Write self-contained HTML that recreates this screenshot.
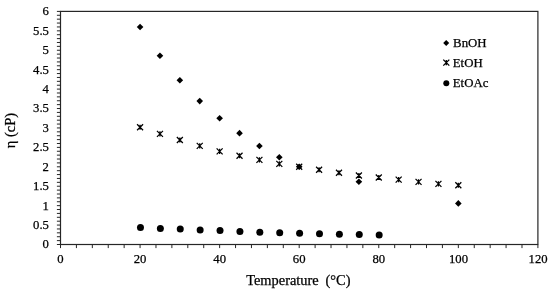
<!DOCTYPE html>
<html><head><meta charset="utf-8"><style>
html,body{margin:0;padding:0;background:#fff;}
svg{display:block;}
text{font-family:"Liberation Serif","Times New Roman",serif;fill:#000;stroke:#000;stroke-width:0.25px;}
.tk{font-size:12.7px;}
.tt{font-size:14.4px;}
.lg{font-size:12.8px;}
</style></head><body>
<svg width="550" height="291" viewBox="0 0 550 291">
<rect width="550" height="291" fill="#fff"/>
<rect x="60.5" y="11.4" width="477.4" height="233.1" fill="none" stroke="#262626" stroke-width="1.2"/>
<line x1="56.9" y1="244.50" x2="60.5" y2="244.50" stroke="#262626" stroke-width="1"/>
<line x1="56.9" y1="240.62" x2="60.5" y2="240.62" stroke="#262626" stroke-width="1"/>
<line x1="56.9" y1="236.73" x2="60.5" y2="236.73" stroke="#262626" stroke-width="1"/>
<line x1="56.9" y1="232.84" x2="60.5" y2="232.84" stroke="#262626" stroke-width="1"/>
<line x1="56.9" y1="228.96" x2="60.5" y2="228.96" stroke="#262626" stroke-width="1"/>
<line x1="56.9" y1="225.07" x2="60.5" y2="225.07" stroke="#262626" stroke-width="1"/>
<line x1="56.9" y1="221.19" x2="60.5" y2="221.19" stroke="#262626" stroke-width="1"/>
<line x1="56.9" y1="217.31" x2="60.5" y2="217.31" stroke="#262626" stroke-width="1"/>
<line x1="56.9" y1="213.42" x2="60.5" y2="213.42" stroke="#262626" stroke-width="1"/>
<line x1="56.9" y1="209.53" x2="60.5" y2="209.53" stroke="#262626" stroke-width="1"/>
<line x1="56.9" y1="205.65" x2="60.5" y2="205.65" stroke="#262626" stroke-width="1"/>
<line x1="56.9" y1="201.76" x2="60.5" y2="201.76" stroke="#262626" stroke-width="1"/>
<line x1="56.9" y1="197.88" x2="60.5" y2="197.88" stroke="#262626" stroke-width="1"/>
<line x1="56.9" y1="194.00" x2="60.5" y2="194.00" stroke="#262626" stroke-width="1"/>
<line x1="56.9" y1="190.11" x2="60.5" y2="190.11" stroke="#262626" stroke-width="1"/>
<line x1="56.9" y1="186.22" x2="60.5" y2="186.22" stroke="#262626" stroke-width="1"/>
<line x1="56.9" y1="182.34" x2="60.5" y2="182.34" stroke="#262626" stroke-width="1"/>
<line x1="56.9" y1="178.45" x2="60.5" y2="178.45" stroke="#262626" stroke-width="1"/>
<line x1="56.9" y1="174.57" x2="60.5" y2="174.57" stroke="#262626" stroke-width="1"/>
<line x1="56.9" y1="170.69" x2="60.5" y2="170.69" stroke="#262626" stroke-width="1"/>
<line x1="56.9" y1="166.80" x2="60.5" y2="166.80" stroke="#262626" stroke-width="1"/>
<line x1="56.9" y1="162.92" x2="60.5" y2="162.92" stroke="#262626" stroke-width="1"/>
<line x1="56.9" y1="159.03" x2="60.5" y2="159.03" stroke="#262626" stroke-width="1"/>
<line x1="56.9" y1="155.14" x2="60.5" y2="155.14" stroke="#262626" stroke-width="1"/>
<line x1="56.9" y1="151.26" x2="60.5" y2="151.26" stroke="#262626" stroke-width="1"/>
<line x1="56.9" y1="147.38" x2="60.5" y2="147.38" stroke="#262626" stroke-width="1"/>
<line x1="56.9" y1="143.49" x2="60.5" y2="143.49" stroke="#262626" stroke-width="1"/>
<line x1="56.9" y1="139.61" x2="60.5" y2="139.61" stroke="#262626" stroke-width="1"/>
<line x1="56.9" y1="135.72" x2="60.5" y2="135.72" stroke="#262626" stroke-width="1"/>
<line x1="56.9" y1="131.83" x2="60.5" y2="131.83" stroke="#262626" stroke-width="1"/>
<line x1="56.9" y1="127.95" x2="60.5" y2="127.95" stroke="#262626" stroke-width="1"/>
<line x1="56.9" y1="124.06" x2="60.5" y2="124.06" stroke="#262626" stroke-width="1"/>
<line x1="56.9" y1="120.18" x2="60.5" y2="120.18" stroke="#262626" stroke-width="1"/>
<line x1="56.9" y1="116.30" x2="60.5" y2="116.30" stroke="#262626" stroke-width="1"/>
<line x1="56.9" y1="112.41" x2="60.5" y2="112.41" stroke="#262626" stroke-width="1"/>
<line x1="56.9" y1="108.53" x2="60.5" y2="108.53" stroke="#262626" stroke-width="1"/>
<line x1="56.9" y1="104.64" x2="60.5" y2="104.64" stroke="#262626" stroke-width="1"/>
<line x1="56.9" y1="100.75" x2="60.5" y2="100.75" stroke="#262626" stroke-width="1"/>
<line x1="56.9" y1="96.87" x2="60.5" y2="96.87" stroke="#262626" stroke-width="1"/>
<line x1="56.9" y1="92.99" x2="60.5" y2="92.99" stroke="#262626" stroke-width="1"/>
<line x1="56.9" y1="89.10" x2="60.5" y2="89.10" stroke="#262626" stroke-width="1"/>
<line x1="56.9" y1="85.22" x2="60.5" y2="85.22" stroke="#262626" stroke-width="1"/>
<line x1="56.9" y1="81.33" x2="60.5" y2="81.33" stroke="#262626" stroke-width="1"/>
<line x1="56.9" y1="77.45" x2="60.5" y2="77.45" stroke="#262626" stroke-width="1"/>
<line x1="56.9" y1="73.56" x2="60.5" y2="73.56" stroke="#262626" stroke-width="1"/>
<line x1="56.9" y1="69.67" x2="60.5" y2="69.67" stroke="#262626" stroke-width="1"/>
<line x1="56.9" y1="65.79" x2="60.5" y2="65.79" stroke="#262626" stroke-width="1"/>
<line x1="56.9" y1="61.91" x2="60.5" y2="61.91" stroke="#262626" stroke-width="1"/>
<line x1="56.9" y1="58.02" x2="60.5" y2="58.02" stroke="#262626" stroke-width="1"/>
<line x1="56.9" y1="54.13" x2="60.5" y2="54.13" stroke="#262626" stroke-width="1"/>
<line x1="56.9" y1="50.25" x2="60.5" y2="50.25" stroke="#262626" stroke-width="1"/>
<line x1="56.9" y1="46.37" x2="60.5" y2="46.37" stroke="#262626" stroke-width="1"/>
<line x1="56.9" y1="42.48" x2="60.5" y2="42.48" stroke="#262626" stroke-width="1"/>
<line x1="56.9" y1="38.60" x2="60.5" y2="38.60" stroke="#262626" stroke-width="1"/>
<line x1="56.9" y1="34.71" x2="60.5" y2="34.71" stroke="#262626" stroke-width="1"/>
<line x1="56.9" y1="30.83" x2="60.5" y2="30.83" stroke="#262626" stroke-width="1"/>
<line x1="56.9" y1="26.94" x2="60.5" y2="26.94" stroke="#262626" stroke-width="1"/>
<line x1="56.9" y1="23.05" x2="60.5" y2="23.05" stroke="#262626" stroke-width="1"/>
<line x1="56.9" y1="19.17" x2="60.5" y2="19.17" stroke="#262626" stroke-width="1"/>
<line x1="56.9" y1="15.28" x2="60.5" y2="15.28" stroke="#262626" stroke-width="1"/>
<line x1="56.9" y1="11.40" x2="60.5" y2="11.40" stroke="#262626" stroke-width="1"/>
<line x1="60.50" y1="244.5" x2="60.50" y2="248.1" stroke="#262626" stroke-width="1"/>
<line x1="76.41" y1="244.5" x2="76.41" y2="248.1" stroke="#262626" stroke-width="1"/>
<line x1="92.33" y1="244.5" x2="92.33" y2="248.1" stroke="#262626" stroke-width="1"/>
<line x1="108.24" y1="244.5" x2="108.24" y2="248.1" stroke="#262626" stroke-width="1"/>
<line x1="124.15" y1="244.5" x2="124.15" y2="248.1" stroke="#262626" stroke-width="1"/>
<line x1="140.07" y1="244.5" x2="140.07" y2="248.1" stroke="#262626" stroke-width="1"/>
<line x1="155.98" y1="244.5" x2="155.98" y2="248.1" stroke="#262626" stroke-width="1"/>
<line x1="171.89" y1="244.5" x2="171.89" y2="248.1" stroke="#262626" stroke-width="1"/>
<line x1="187.81" y1="244.5" x2="187.81" y2="248.1" stroke="#262626" stroke-width="1"/>
<line x1="203.72" y1="244.5" x2="203.72" y2="248.1" stroke="#262626" stroke-width="1"/>
<line x1="219.63" y1="244.5" x2="219.63" y2="248.1" stroke="#262626" stroke-width="1"/>
<line x1="235.55" y1="244.5" x2="235.55" y2="248.1" stroke="#262626" stroke-width="1"/>
<line x1="251.46" y1="244.5" x2="251.46" y2="248.1" stroke="#262626" stroke-width="1"/>
<line x1="267.37" y1="244.5" x2="267.37" y2="248.1" stroke="#262626" stroke-width="1"/>
<line x1="283.29" y1="244.5" x2="283.29" y2="248.1" stroke="#262626" stroke-width="1"/>
<line x1="299.20" y1="244.5" x2="299.20" y2="248.1" stroke="#262626" stroke-width="1"/>
<line x1="315.11" y1="244.5" x2="315.11" y2="248.1" stroke="#262626" stroke-width="1"/>
<line x1="331.03" y1="244.5" x2="331.03" y2="248.1" stroke="#262626" stroke-width="1"/>
<line x1="346.94" y1="244.5" x2="346.94" y2="248.1" stroke="#262626" stroke-width="1"/>
<line x1="362.85" y1="244.5" x2="362.85" y2="248.1" stroke="#262626" stroke-width="1"/>
<line x1="378.77" y1="244.5" x2="378.77" y2="248.1" stroke="#262626" stroke-width="1"/>
<line x1="394.68" y1="244.5" x2="394.68" y2="248.1" stroke="#262626" stroke-width="1"/>
<line x1="410.59" y1="244.5" x2="410.59" y2="248.1" stroke="#262626" stroke-width="1"/>
<line x1="426.51" y1="244.5" x2="426.51" y2="248.1" stroke="#262626" stroke-width="1"/>
<line x1="442.42" y1="244.5" x2="442.42" y2="248.1" stroke="#262626" stroke-width="1"/>
<line x1="458.33" y1="244.5" x2="458.33" y2="248.1" stroke="#262626" stroke-width="1"/>
<line x1="474.25" y1="244.5" x2="474.25" y2="248.1" stroke="#262626" stroke-width="1"/>
<line x1="490.16" y1="244.5" x2="490.16" y2="248.1" stroke="#262626" stroke-width="1"/>
<line x1="506.07" y1="244.5" x2="506.07" y2="248.1" stroke="#262626" stroke-width="1"/>
<line x1="521.99" y1="244.5" x2="521.99" y2="248.1" stroke="#262626" stroke-width="1"/>
<line x1="537.90" y1="244.5" x2="537.90" y2="248.1" stroke="#262626" stroke-width="1"/>
<text x="48.9" y="248.40" text-anchor="end" class="tk">0</text>
<text x="48.9" y="228.97" text-anchor="end" class="tk">0.5</text>
<text x="48.9" y="209.55" text-anchor="end" class="tk">1</text>
<text x="48.9" y="190.12" text-anchor="end" class="tk">1.5</text>
<text x="48.9" y="170.70" text-anchor="end" class="tk">2</text>
<text x="48.9" y="151.28" text-anchor="end" class="tk">2.5</text>
<text x="48.9" y="131.85" text-anchor="end" class="tk">3</text>
<text x="48.9" y="112.43" text-anchor="end" class="tk">3.5</text>
<text x="48.9" y="93.00" text-anchor="end" class="tk">4</text>
<text x="48.9" y="73.57" text-anchor="end" class="tk">4.5</text>
<text x="48.9" y="54.15" text-anchor="end" class="tk">5</text>
<text x="48.9" y="34.73" text-anchor="end" class="tk">5.5</text>
<text x="48.9" y="15.30" text-anchor="end" class="tk">6</text>
<text x="60.50" y="263.1" text-anchor="middle" class="tk">0</text>
<text x="140.07" y="263.1" text-anchor="middle" class="tk">20</text>
<text x="219.63" y="263.1" text-anchor="middle" class="tk">40</text>
<text x="299.20" y="263.1" text-anchor="middle" class="tk">60</text>
<text x="378.77" y="263.1" text-anchor="middle" class="tk">80</text>
<text x="458.53" y="263.1" text-anchor="middle" class="tk">100</text>
<text x="538.10" y="263.1" text-anchor="middle" class="tk">120</text>
<text x="246.2" y="284.6" class="tt">Temperature</text>
<text x="325.5" y="284.6" class="tt">(°C)</text>
<text transform="translate(14.5,130.6) rotate(-90)" text-anchor="middle" class="tt">η (cP)</text>
<path d="M137.07 124.20L143.07 130.20M143.07 124.20L137.07 130.20M140.07 124.65L140.07 129.75" stroke="#000" stroke-width="1.25" fill="none"/>
<path d="M156.96 130.90L162.96 136.90M162.96 130.90L156.96 136.90M159.96 131.35L159.96 136.45" stroke="#000" stroke-width="1.25" fill="none"/>
<path d="M176.85 137.00L182.85 143.00M182.85 137.00L176.85 143.00M179.85 137.45L179.85 142.55" stroke="#000" stroke-width="1.25" fill="none"/>
<path d="M196.74 142.90L202.74 148.90M202.74 142.90L196.74 148.90M199.74 143.35L199.74 148.45" stroke="#000" stroke-width="1.25" fill="none"/>
<path d="M216.63 148.35L222.63 154.35M222.63 148.35L216.63 154.35M219.63 148.80L219.63 153.90" stroke="#000" stroke-width="1.25" fill="none"/>
<path d="M236.53 152.75L242.53 158.75M242.53 152.75L236.53 158.75M239.53 153.20L239.53 158.30" stroke="#000" stroke-width="1.25" fill="none"/>
<path d="M256.42 156.90L262.42 162.90M262.42 156.90L256.42 162.90M259.42 157.35L259.42 162.45" stroke="#000" stroke-width="1.25" fill="none"/>
<path d="M276.31 160.90L282.31 166.90M282.31 160.90L276.31 166.90M279.31 161.35L279.31 166.45" stroke="#000" stroke-width="1.25" fill="none"/>
<path d="M296.20 163.70L302.20 169.70M302.20 163.70L296.20 169.70M299.20 164.15L299.20 169.25" stroke="#000" stroke-width="1.25" fill="none"/>
<path d="M316.09 166.80L322.09 172.80M322.09 166.80L316.09 172.80M319.09 167.25L319.09 172.35" stroke="#000" stroke-width="1.25" fill="none"/>
<path d="M335.98 169.70L341.98 175.70M341.98 169.70L335.98 175.70M338.98 170.15L338.98 175.25" stroke="#000" stroke-width="1.25" fill="none"/>
<path d="M355.88 172.50L361.88 178.50M361.88 172.50L355.88 178.50M358.88 172.95L358.88 178.05" stroke="#000" stroke-width="1.25" fill="none"/>
<path d="M375.77 174.55L381.77 180.55M381.77 174.55L375.77 180.55M378.77 175.00L378.77 180.10" stroke="#000" stroke-width="1.25" fill="none"/>
<path d="M395.66 176.60L401.66 182.60M401.66 176.60L395.66 182.60M398.66 177.05L398.66 182.15" stroke="#000" stroke-width="1.25" fill="none"/>
<path d="M415.55 178.85L421.55 184.85M421.55 178.85L415.55 184.85M418.55 179.30L418.55 184.40" stroke="#000" stroke-width="1.25" fill="none"/>
<path d="M435.44 180.90L441.44 186.90M441.44 180.90L435.44 186.90M438.44 181.35L438.44 186.45" stroke="#000" stroke-width="1.25" fill="none"/>
<path d="M455.33 182.30L461.33 188.30M461.33 182.30L455.33 188.30M458.33 182.75L458.33 187.85" stroke="#000" stroke-width="1.25" fill="none"/>
<path d="M140.07 23.70L143.37 27.00L140.07 30.30L136.77 27.00Z" fill="#000"/>
<path d="M159.96 52.50L163.26 55.80L159.96 59.10L156.66 55.80Z" fill="#000"/>
<path d="M179.85 76.90L183.15 80.20L179.85 83.50L176.55 80.20Z" fill="#000"/>
<path d="M199.74 97.80L203.04 101.10L199.74 104.40L196.44 101.10Z" fill="#000"/>
<path d="M219.63 114.90L222.93 118.20L219.63 121.50L216.33 118.20Z" fill="#000"/>
<path d="M239.53 129.85L242.83 133.15L239.53 136.45L236.22 133.15Z" fill="#000"/>
<path d="M259.42 142.70L262.72 146.00L259.42 149.30L256.12 146.00Z" fill="#000"/>
<path d="M279.31 153.90L282.61 157.20L279.31 160.50L276.01 157.20Z" fill="#000"/>
<path d="M299.20 163.40L302.50 166.70L299.20 170.00L295.90 166.70Z" fill="#000"/>
<path d="M358.88 178.40L362.18 181.70L358.88 185.00L355.57 181.70Z" fill="#000"/>
<path d="M458.33 200.10L461.63 203.40L458.33 206.70L455.03 203.40Z" fill="#000"/>
<circle cx="140.47" cy="227.60" r="3.5" fill="#000"/>
<circle cx="160.36" cy="228.50" r="3.5" fill="#000"/>
<circle cx="180.25" cy="229.10" r="3.5" fill="#000"/>
<circle cx="200.14" cy="230.10" r="3.5" fill="#000"/>
<circle cx="220.03" cy="230.50" r="3.5" fill="#000"/>
<circle cx="239.93" cy="231.60" r="3.5" fill="#000"/>
<circle cx="259.82" cy="232.20" r="3.5" fill="#000"/>
<circle cx="279.71" cy="232.70" r="3.5" fill="#000"/>
<circle cx="299.60" cy="233.30" r="3.5" fill="#000"/>
<circle cx="319.49" cy="233.80" r="3.5" fill="#000"/>
<circle cx="339.38" cy="234.30" r="3.5" fill="#000"/>
<circle cx="359.27" cy="234.60" r="3.5" fill="#000"/>
<circle cx="379.17" cy="234.90" r="3.5" fill="#000"/>
<path d="M446.20 40.10L449.20 43.10L446.20 46.10L443.20 43.10Z" fill="#000"/>
<path d="M443.30 59.60L449.30 65.60M449.30 59.60L443.30 65.60M446.30 60.05L446.30 65.15" stroke="#000" stroke-width="1.3" fill="none"/>
<circle cx="446.30" cy="83.20" r="3.0" fill="#000"/>
<text x="453.1" y="47.0" class="lg">BnOH</text>
<text x="452.8" y="66.7" class="lg">EtOH</text>
<text x="452.8" y="86.5" class="lg">EtOAc</text>
</svg>
</body></html>
